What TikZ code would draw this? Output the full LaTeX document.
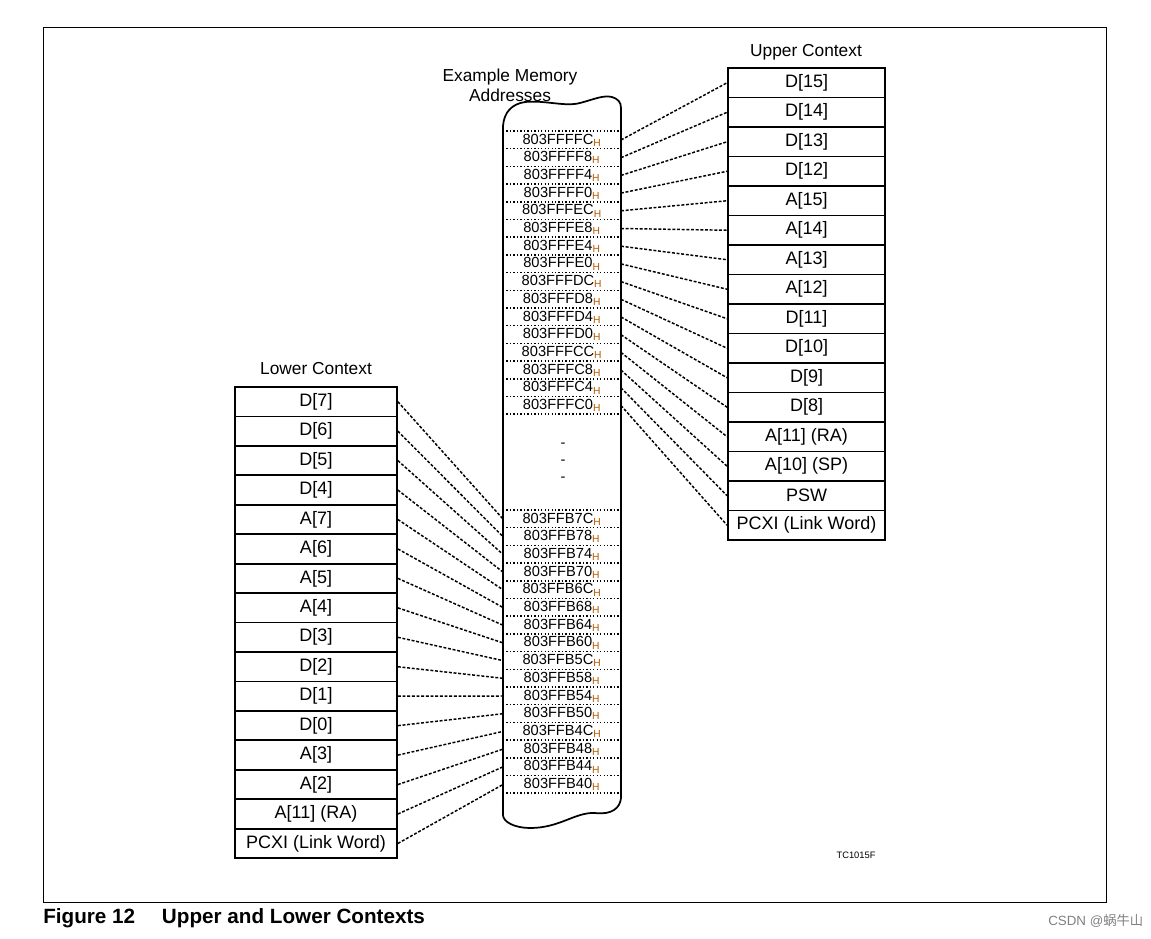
\documentclass[tikz,border=0pt]{standalone}
\usepackage{fontspec}
\setmainfont{Liberation Sans}
\newfontfamily\cjk{Noto Sans CJK SC}
\begin{document}
\begin{tikzpicture}[x=0.75pt,y=-0.75pt,
  box/.style={draw,line width=1.3pt,minimum width=0.75*157pt,minimum height=0.75*29.5pt,inner sep=0pt,font=\fontsize{13.5}{15}\selectfont},
  lbox/.style={box,minimum width=0.75*162pt},
  mem/.style={inner sep=0pt,font=\fontsize{11}{12}\selectfont},
  con/.style={dash pattern=on 2.2pt off 1.3pt,line width=1.1pt},
  sep/.style={dash pattern=on 1pt off 1.6pt,line width=1.1pt}]
\useasboundingbox (0,0) rectangle (1151,938);
\draw[line width=0.6pt] (43,27) rectangle (1106,902);
\node[anchor=west,inner sep=0pt,font=\bfseries\fontsize{15.5}{17}\selectfont] (cap) at (43,918) {Figure 12\hspace{1.3em}Upper and Lower Contexts};
\node[anchor=east,text=gray,font=\fontsize{10}{12}\selectfont] (wm) at (1148,921) {CSDN @{\cjk 蜗牛山}};
\node[font=\fontsize{7}{8}\selectfont] (tc) at (856,855) {TC1015F};
% memory column
\draw[line width=1.3pt] (503,130) -- (503,126) .. controls (504,112) and (512,104) .. (525,102)
  .. controls (545,100) and (565,107) .. (580,103) .. controls (595,99) and (603,95) .. (612,97)
  .. controls (618,99) and (621,102) .. (621,108)
  -- (621,798) .. controls (620,808) and (612,815) .. (595,813) .. controls (575,812) and (560,828) .. (530,828)
  .. controls (515,828) and (503,822) .. (503,815) -- cycle;
\node[align=center,font=\fontsize{13}{15}\selectfont] (ema) at (510,85) {Example Memory\\Addresses};
\foreach \a [count=\i from 0] in {803FFFFC,803FFFF8,803FFFF4,803FFFF0,803FFFEC,803FFFE8,803FFFE4,803FFFE0,803FFFDC,803FFFD8,803FFFD4,803FFFD0,803FFFCC,803FFFC8,803FFFC4,803FFFC0} {
  \draw[sep] (503,131+\i*17.7) -- (621,131+\i*17.7);
  \node[mem] (u\i) at (562,140+\i*17.7) {\a\textsubscript{\color{orange!70!black}H}};
}
\draw[sep] (503,414) -- (621,414);
\foreach \a [count=\i from 0] in {803FFB7C,803FFB78,803FFB74,803FFB70,803FFB6C,803FFB68,803FFB64,803FFB60,803FFB5C,803FFB58,803FFB54,803FFB50,803FFB4C,803FFB48,803FFB44,803FFB40} {
  \draw[sep] (503,510+\i*17.7) -- (621,510+\i*17.7);
  \node[mem] (l\i) at (562,519+\i*17.7) {\a\textsubscript{\color{orange!70!black}H}};
}
\draw[sep] (503,793) -- (621,793);
\foreach \y [count=\i] in {445,462,479} \node[mem] (dot\i) at (563,\y) {-};
% upper context
\node[font=\fontsize{13}{15}\selectfont] (ut) at (806,52) {Upper Context};
\foreach \a [count=\i from 0] in {D[15],D[14],D[13],D[12],A[15],A[14],A[13],A[12],D[11],D[10],D[9],D[8],A[11] (RA),A[10] (SP),PSW,PCXI (Link Word)} {
  \node[box] (U\i) at (806.5,82.75+\i*29.5) {\a};
  \coordinate (mu\i) at (621,140+\i*17.7);
  \draw[con] (mu\i) -- (U\i.west);
}
% lower context
\node[font=\fontsize{13}{15}\selectfont] (lt) at (316,369) {Lower Context};
\foreach \a [count=\i from 0] in {D[7],D[6],D[5],D[4],A[7],A[6],A[5],A[4],D[3],D[2],D[1],D[0],A[3],A[2],A[11] (RA),PCXI (Link Word)} {
  \node[lbox] (L\i) at (316,401.7+\i*29.45) {\a};
  \coordinate (ml\i) at (503,519+\i*17.7);
  \draw[con] (L\i.east) -- (ml\i);
}
\end{tikzpicture}
\end{document}
